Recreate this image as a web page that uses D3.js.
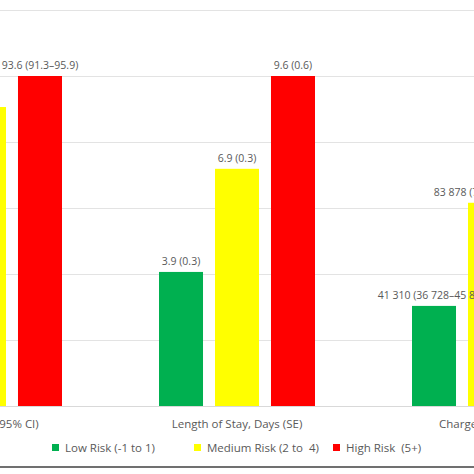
<!DOCTYPE html>
<html><head><meta charset="utf-8">
<script src="https://cdn.jsdelivr.net/npm/d3@7"></script>
<style>body{margin:0;background:#fff}svg{display:block}text{font-family:"Open Sans","Liberation Sans",sans-serif;fill:#595959;white-space:pre}</style>
</head><body><div id="chart"></div>
<script>
var groups = ['Mortality, % (95% CI)', 'Length of Stay, Days (SE)', 'Charges, $ (95% CI)']
var series = ['Low Risk (-1 to 1)', 'Medium Risk (2 to  4)', 'High Risk  (5+)']
var colors = ['#00b050', '#ffff00', '#ff0000']
var values = [
	[30.2, 84.8, 93.6],
	[3.9, 6.9, 9.6],
	[41310, 83878, 136200]
]
var labels = [
	['30.2', '', '93.6 (91.3–95.9)'],
	['3.9 (0.3)', '6.9 (0.3)', '9.6 (0.6)'],
	['41 310 (36 728–45 893)', '83 878 (73 564–94 192)', '136 200 (118 400–154 000)']
]

var W = 474, H = 474
var svg = d3.select('#chart').append('svg').attr('width', W).attr('height', H)

// plot is wider than the window; the picture is a crop of it
var x0 = d3.scaleBand().domain(groups).range([237 - 253 * 1.5, 237 + 253 * 1.5])
var x1 = d3.scaleBand().domain(series).range([-78, 78]).paddingInner(0.214)
var y = d3.scaleLinear().domain([0, 1.2]).range([406, 10])

svg.append('g').selectAll('line').data(y.ticks(6)).join('line')
	.attr('x1', 0).attr('x2', W)
	.attr('y1', function (d) { return y(d) + 0.5 }).attr('y2', function (d) { return y(d) + 0.5 })
	.attr('stroke', '#e3e3e3').attr('stroke-width', 1)

var g = svg.selectAll('.grp').data(groups).join('g')
	.attr('class', 'grp')
	.attr('transform', function (d) { return 'translate(' + (x0(d) + x0.bandwidth() / 2) + ',0)' })

g.each(function (gname, gi) {
	var max = d3.max(values[gi])
	var rows = series.map(function (s, si) {
		return { s: s, v: values[gi][si] / max, c: colors[si], t: labels[gi][si] }
	})
	var el = d3.select(this)
	el.selectAll('rect').data(rows).join('rect')
		.attr('x', function (d) { return x1(d.s) })
		.attr('width', x1.bandwidth())
		.attr('y', function (d) { return y(d.v) })
		.attr('height', function (d) { return y(0) - y(d.v) })
		.attr('fill', function (d) { return d.c })
	el.selectAll('text.val').data(rows).join('text')
		.attr('class', 'val')
		.attr('x', function (d) { return x1(d.s) + x1.bandwidth() / 2 })
		.attr('y', function (d) { return y(d.v) - 7 })
		.attr('text-anchor', 'middle').attr('font-size', 10.5)
		.text(function (d) { return d.t })
	el.append('text').attr('y', 428).attr('text-anchor', 'middle').attr('font-size', 11.5)
		.text(gname)
})

svg.append('line').attr('x1', 0).attr('x2', W).attr('y1', 406.5).attr('y2', 406.5).attr('stroke', '#d9d9d9')

var lx = [52, 194, 333]
var lg = svg.append('g').selectAll('g').data(series).join('g')
	.attr('transform', function (d, i) { return 'translate(' + lx[i] + ',448)' })
lg.append('rect').attr('x', 0).attr('y', -4).attr('width', 7).attr('height', 7)
	.attr('fill', function (d, i) { return colors[i] })
lg.append('text').attr('x', 13).attr('y', 4).attr('font-size', 11.5).text(function (d) { return d })

svg.append('line').attr('x1', 0).attr('x2', W).attr('y1', 467).attr('y2', 467).attr('stroke', '#404040').attr('stroke-width', 1.5)
</script></body></html>
